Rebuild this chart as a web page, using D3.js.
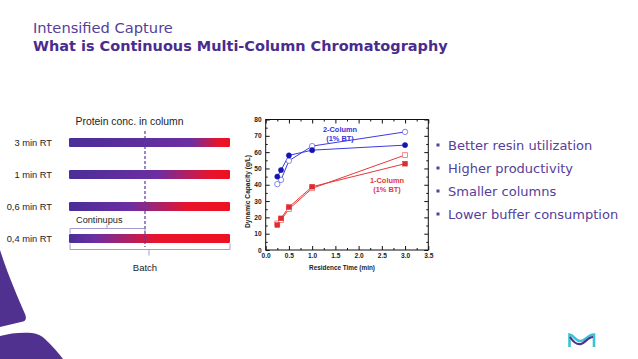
<!DOCTYPE html>
<html><head><meta charset="utf-8">
<script src="https://cdn.jsdelivr.net/npm/d3@7"></script>
<style>
html,body{margin:0;padding:0;background:#fff;}
svg{display:block;}
</style></head>
<body>
<svg id="c" width="638" height="359"></svg>
<script>
// ---------- data ----------
const titleLine1 = "Intensified Capture";
const titleLine2 = "What is Continuous Multi-Column Chromatography";
const bullets = ["Better resin utilization","Higher productivity","Smaller columns","Lower buffer consumption"];

const rtLabels = ["3 min RT","1 min RT","0,6 min RT","0,4 min RT"];
const purpleEnd = [0.76, 0.55, 0.38, 0.16];   // fraction of column still unloaded (purple)
const redStart  = [0.93, 0.88, 0.74, 0.55];   // fraction where column is saturated (red)

const residenceTime = [0.25, 0.33, 0.5, 1.0, 3.0];
const twoColFilled = [45, 49, 58, 61.2, 64.3];
const twoColOpen   = [40.4, 43, 54.7, 63.7, 72.4];
const oneColFilled = [15.3, 19.4, 26.3, 38.8, 52.9];
const oneColOpen   = [16.3, 18.4, 25.1, 37.8, 58.2];
const xTicks = [0,0.5,1.0,1.5,2.0,2.5,3.0,3.5];
const yTicks = [0,10,20,30,40,50,60,70,80];

// ---------- page ----------
const svg = d3.select("#c");

// decorative blobs bottom-left
svg.append("path").attr("fill", "#51318f")
  .attr("d","M0,250 C8,275 18,298 25,314 Q28,321 21,322 L0,327 Z");
svg.append("path").attr("fill", "#51318f")
  .attr("d","M0,336 C10,333 22,332 32,333 Q40,334 45,339 C52,346 58,352 63,359 L0,359 Z");

// titles
function fitText(sel, w){
  const l = sel.node().getComputedTextLength();
  const fs = parseFloat(sel.attr("font-size"));
  sel.attr("font-size", (fs*w/l).toFixed(2));
}
const t1 = svg.append("text").attr("x",33).attr("y",33)
  .attr("font-family","DejaVu Sans, Verdana, sans-serif").attr("font-size",14.3)
  .attr("fill","#54409a").text(titleLine1);
fitText(t1, 140);
const t2 = svg.append("text").attr("x",33).attr("y",51)
  .attr("font-family","DejaVu Sans, Verdana, sans-serif").attr("font-weight","bold").attr("font-size",14)
  .attr("fill","#4a2c8e").text(titleLine2);
fitText(t2, 415);

// bullets
const by = d3.scalePoint().domain(bullets).range([145, 214]);
const bg = svg.append("g");
bullets.forEach(b=>{
  bg.append("rect").attr("x",436.5).attr("y",by(b)-1.5).attr("width",3).attr("height",3).attr("fill","#54409a");
  bg.append("text").attr("x",448).attr("y",by(b)).attr("dy","0.36em")
    .attr("font-family","DejaVu Sans, Verdana, sans-serif").attr("font-size",13)
    .attr("fill","#54409a").text(b);
});

// ---------- left diagram ----------
const diag = svg.append("g");
const defs = svg.append("defs");
const barX = d3.scaleLinear().domain([0,1]).range([69, 230]);
const barY = d3.scalePoint().domain(rtLabels).range([142.5, 238.5]);
const barH = 9;
diag.append("text").attr("x",129.5).attr("y",121).attr("dy","0.35em").attr("text-anchor","middle")
  .attr("font-family","Liberation Sans, Arial, sans-serif").attr("font-size",10.4).attr("fill","#222")
  .text("Protein conc. in column");
rtLabels.forEach((lab,i)=>{
  const gid = "g"+i;
  const gr = defs.append("linearGradient").attr("id",gid).attr("x1","0").attr("x2","1").attr("y1","0").attr("y2","0");
  gr.append("stop").attr("offset",0).attr("stop-color","#4a2e97");
  gr.append("stop").attr("offset",purpleEnd[i]).attr("stop-color","#6c2ea2");
  gr.append("stop").attr("offset",redStart[i]).attr("stop-color","#e8142c");
  gr.append("stop").attr("offset",1).attr("stop-color","#ee1020");
  diag.append("rect").attr("x",barX(0)).attr("y",barY(lab)-barH/2).attr("width",barX(1)-barX(0)).attr("height",barH)
    .attr("rx",1.2).attr("fill",`url(#${gid})`);
  diag.append("text").attr("x",52).attr("y",barY(lab)).attr("dy","0.35em").attr("text-anchor","end")
    .attr("font-family","Liberation Sans, Arial, sans-serif").attr("font-size",9.3).attr("fill","#222").text(lab);
});
// dashed breakthrough line
const dashX = barX(0.472);
diag.append("line").attr("x1",dashX).attr("x2",dashX).attr("y1",131).attr("y2",247)
  .attr("stroke","#5a3aa3").attr("stroke-width",1.2).attr("stroke-dasharray","3,2");
// continuous bracket
const bc = "#9d90c9";
const lastY = barY(rtLabels[3]);
diag.append("path").attr("fill","none").attr("stroke",bc).attr("stroke-width",0.9)
  .attr("d",`M${barX(0)+1},${lastY-5} V${lastY-10} H${dashX} V${lastY-5} M${(barX(0)+dashX)/2},${lastY-10} V${lastY-14}`);
diag.append("text").attr("x",76).attr("y",219.5).attr("dy","0.35em")
  .attr("font-family","Liberation Sans, Arial, sans-serif").attr("font-size",9.2).attr("fill","#222").text("Continupus");
// batch bracket
diag.append("path").attr("fill","none").attr("stroke",bc).attr("stroke-width",0.9)
  .attr("d",`M${barX(0)+1},${lastY+5} V${lastY+11} H${barX(1)} V${lastY+5} M${dashX+4},${lastY+11} V${lastY+17}`);
diag.append("text").attr("x",145).attr("y",268).attr("dy","0.35em").attr("text-anchor","middle")
  .attr("font-family","Liberation Sans, Arial, sans-serif").attr("font-size",9.5).attr("fill","#222").text("Batch");

// ---------- scatter chart ----------
const x = d3.scaleLinear().domain([0,3.5]).range([265.7, 428.3]);
const y = d3.scaleLinear().domain([0,80]).range([250, 119.5]);
const ch = svg.append("g").attr("font-family","Liberation Sans, Arial, sans-serif");
const axC = "#111";
// frame
ch.append("rect").attr("x",x(0)).attr("y",y(80)).attr("width",x(3.5)-x(0)).attr("height",y(0)-y(80))
  .attr("fill","none").attr("stroke",axC).attr("stroke-width",1);
// ticks inward
const yMinor = d3.range(5,80,10);
const xMinor = d3.range(0.25,3.5,0.5);
function styleAxis(g){ g.select(".domain").remove(); g.selectAll("line").attr("stroke",axC); }
ch.append("g").attr("transform",`translate(${x(0)},0)`)
  .call(d3.axisRight(y).tickValues(yTicks).tickSize(4).tickFormat("")).call(styleAxis);
ch.append("g").attr("transform",`translate(${x(0)},0)`)
  .call(d3.axisRight(y).tickValues(yMinor).tickSize(2).tickFormat("")).call(styleAxis);
ch.append("g").attr("transform",`translate(${x(3.5)},0)`)
  .call(d3.axisLeft(y).tickValues(yTicks).tickSize(4).tickFormat("")).call(styleAxis);
ch.append("g").attr("transform",`translate(${x(3.5)},0)`)
  .call(d3.axisLeft(y).tickValues(yMinor).tickSize(2).tickFormat("")).call(styleAxis);
ch.append("g").attr("transform",`translate(0,${y(0)})`)
  .call(d3.axisTop(x).tickValues(xTicks).tickSize(4).tickFormat("")).call(styleAxis);
ch.append("g").attr("transform",`translate(0,${y(0)})`)
  .call(d3.axisTop(x).tickValues(xMinor).tickSize(2).tickFormat("")).call(styleAxis);
ch.append("g").attr("transform",`translate(0,${y(80)})`)
  .call(d3.axisBottom(x).tickValues(xTicks).tickSize(4).tickFormat("")).call(styleAxis);
ch.append("g").attr("transform",`translate(0,${y(80)})`)
  .call(d3.axisBottom(x).tickValues(xMinor).tickSize(2).tickFormat("")).call(styleAxis);
// tick labels
const yl = ch.append("g").attr("transform",`translate(${x(0)},0)`)
  .call(d3.axisLeft(y).tickValues(yTicks).tickSize(0).tickPadding(4).tickFormat(d3.format("d")));
yl.select(".domain").remove();
yl.selectAll("text").attr("font-size",6.6).attr("font-weight","bold").attr("fill","#222")
  .attr("font-family","Liberation Sans, Arial, sans-serif");
const xl = ch.append("g").attr("transform",`translate(0,${y(0)})`)
  .call(d3.axisBottom(x).tickValues(xTicks).tickSize(0).tickPadding(3).tickFormat(d3.format(".1f")));
xl.select(".domain").remove();
xl.selectAll("text").attr("font-size",6.6).attr("font-weight","bold").attr("fill","#222")
  .attr("font-family","Liberation Sans, Arial, sans-serif");
// axis titles
ch.append("text").attr("x",342).attr("y",268).attr("dy","0.35em").attr("text-anchor","middle")
  .attr("font-size",6.4).attr("font-weight","bold").attr("fill","#222").text("Residence Time (min)");
ch.append("text").attr("transform",`translate(247.5,191.5) rotate(-90)`).attr("dy","0.35em").attr("text-anchor","middle")
  .attr("font-size",6.6).attr("font-weight","bold").attr("fill","#222").text("Dynamic Capacity (g/L)");

// series
const blueL = "#3b3be0", blueM = "#1414b4", redL = "#e8383c", redM = "#e02a2e";
const line = d3.line().x(d=>x(d[0])).y(d=>y(d[1]));
const zip = arr => residenceTime.map((t,i)=>[t,arr[i]]);
const series = [
  {v: oneColOpen,   c: redL, m: redM, shape: "square", fill: false},
  {v: oneColFilled, c: redL, m: redM, shape: "square", fill: true},
  {v: twoColOpen,   c: blueL, m: blueM, shape: "circle", fill: false},
  {v: twoColFilled, c: blueL, m: blueM, shape: "circle", fill: true},
];
series.forEach(s=>{
  ch.append("path").attr("d",line(zip(s.v))).attr("fill","none").attr("stroke",s.c).attr("stroke-width",1);
});
series.forEach(s=>{
  const g = ch.append("g");
  zip(s.v).forEach(d=>{
    if (s.shape==="circle"){
      g.append("circle").attr("cx",x(d[0])).attr("cy",y(d[1])).attr("r",s.fill?2.6:2.7)
        .attr("fill",s.fill?s.m:"#fff").attr("stroke",s.fill?s.m:"#6a6ae8").attr("stroke-width",s.fill?0.5:0.8);
    } else {
      g.append("rect").attr("x",x(d[0])-2.4).attr("y",y(d[1])-2.4).attr("width",4.8).attr("height",4.8)
        .attr("fill",s.fill?s.m:"#fff").attr("stroke",s.fill?s.m:"#ee7070").attr("stroke-width",s.fill?0.5:0.8);
    }
  });
});
// annotations
ch.append("text").attr("x",340).attr("y",129.5).attr("dy","0.35em").attr("text-anchor","middle")
  .attr("font-size",7.4).attr("font-weight","bold").attr("fill","#3434d8").text("2-Column");
ch.append("text").attr("x",340).attr("y",138.5).attr("dy","0.35em").attr("text-anchor","middle")
  .attr("font-size",7.4).attr("font-weight","bold").attr("fill","#3434d8").text("(1% BT)");
ch.append("text").attr("x",387).attr("y",180).attr("dy","0.35em").attr("text-anchor","middle")
  .attr("font-size",7.4).attr("font-weight","bold").attr("fill","#e3363a").text("1-Column");
ch.append("text").attr("x",387).attr("y",189).attr("dy","0.35em").attr("text-anchor","middle")
  .attr("font-size",7.4).attr("font-weight","bold").attr("fill","#e3363a").text("(1% BT)");

// logo
const logo = svg.append("g").attr("transform","translate(568,333)");
logo.append("path").attr("fill","none").attr("stroke","#3cc3d3").attr("stroke-width",2.6)
  .attr("d","M1.5,14 V1.5 C6,2 8,9 13,8 C18,7 21,1 26,1.5 V14");
logo.append("path").attr("fill","none").attr("stroke","#503291").attr("stroke-width",2.2)
  .attr("d","M2,4 C6,10 9,12 13,11 C17,10 20,4 25,4");
</script>
</body></html>
